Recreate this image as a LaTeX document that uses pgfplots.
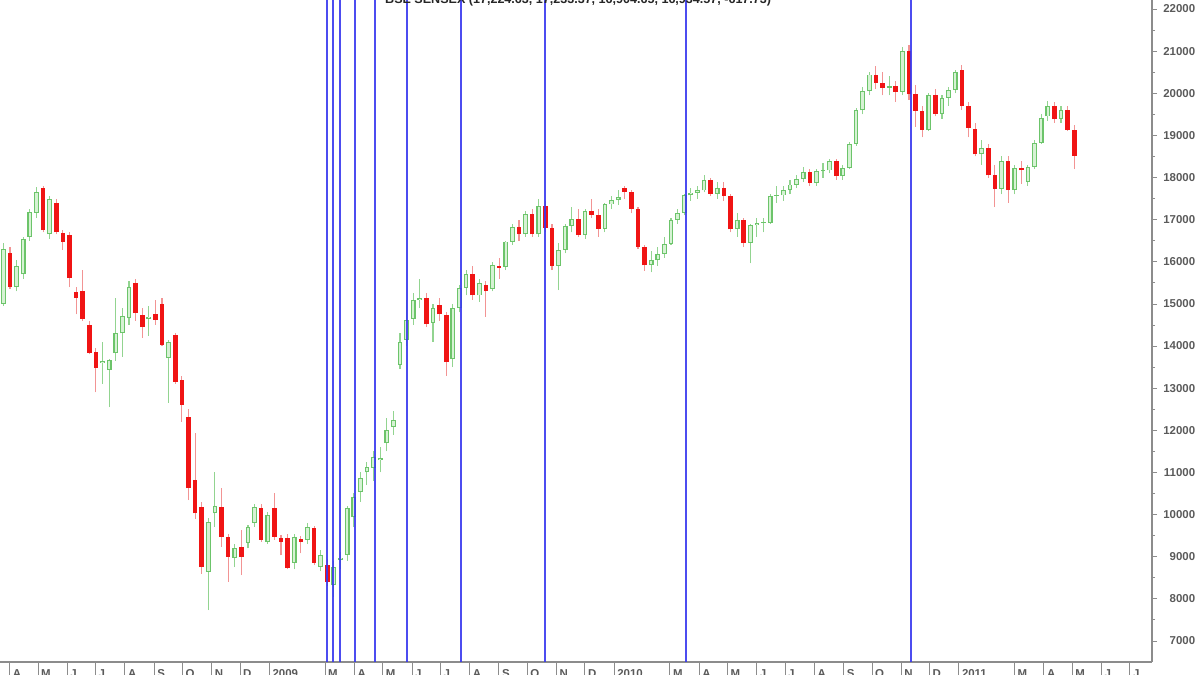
\documentclass[border=0pt]{standalone}
\usepackage{fontspec}
\setmainfont{Liberation Sans}
\usepackage{pgfplots}
\pgfplotsset{compat=1.18}
\usepackage{pgfplotstable}

\definecolor{upfill}{HTML}{D6F2D4}
\definecolor{updraw}{HTML}{6CC46A}
\definecolor{upwick}{HTML}{92D490}
\definecolor{dnfill}{HTML}{F01414}
\definecolor{dnwick}{HTML}{F29494}
\definecolor{fibo}{HTML}{3838EE}
\definecolor{axgray}{HTML}{8C8C8C}
\definecolor{txtgray}{HTML}{5A5A5A}

% weekly candles: i = week index (0 = week of 24 Mar 2008)
\pgfplotstableread{
i O H L C
0 15000 16450 14950 16300
2 15400 16050 15300 15900
3 15700 16600 15600 16550
4 16600 17250 16500 17180
5 17160 17780 17050 17650
7 16650 17550 16550 17500
15 13600 14100 13100 13650
16 13430 13700 12550 13670
17 13830 15150 13650 14300
18 14300 14900 13750 14720
19 14660 15550 14500 15400
22 14650 14950 14250 14700
25 13710 14150 12650 14090
31 8640 9920 7730 9820
32 10030 11000 9700 10200
35 8970 9300 8750 9200
37 9320 9750 9200 9700
38 9800 10250 9700 10180
40 9350 10050 9300 9990
44 8850 9550 8700 9470
46 9400 9800 9300 9700
48 8750 9150 8650 9040
50 8320 8900 8050 8750
51 8920 9100 8700 8980
52 9040 10200 8900 10150
53 9940 10500 9700 10420
54 10530 11000 10300 10870
55 11000 11250 10700 11130
56 11100 11500 10800 11370
57 11300 11600 11000 11350
58 11700 12300 11500 12000
59 12080 12450 11900 12240
60 13550 14300 13450 14100
61 14150 15100 14000 14625
62 14650 15250 14500 15100
63 15100 15600 14900 15150
65 14550 15000 14100 14900
68 13700 15000 13500 14900
69 14900 15450 14800 15380
70 15380 15800 15200 15700
72 15200 15600 15050 15500
74 15350 16000 15300 15920
76 15880 16500 15800 16480
77 16480 16900 16400 16820
79 16650 17200 16600 17130
81 16650 17500 16600 17330
84 15900 16450 15330 16280
85 16280 16900 16200 16850
86 16850 17300 16700 17020
88 16630 17250 16550 17200
91 16780 17400 16700 17360
92 17360 17550 17250 17465
93 17465 17700 17350 17540
98 15915 16250 15750 16040
99 16040 16350 15900 16190
100 16190 16600 16100 16430
101 16430 17050 16400 16994
102 16994 17250 16900 17167
103 17167 17600 17100 17578
104 17578 17750 17450 17644
105 17644 17800 17500 17692
106 17692 18050 17650 17933
108 17620 17900 17500 17744
111 16769 17150 16600 16994
113 16445 16900 15960 16863
114 16863 17050 16600 16919
115 16919 17050 16700 16922
116 16922 17600 16900 17571
117 17571 17800 17400 17574
118 17574 17800 17450 17701
119 17701 17950 17600 17834
120 17834 18050 17750 17956
121 17956 18250 17900 18131
123 17868 18200 17800 18144
124 18144 18350 18000 18167
125 18167 18450 18100 18401
127 18031 18300 17950 18221
128 18221 18850 18200 18799
129 18799 19650 18750 19594
130 19594 20150 19500 20045
131 20045 20500 19950 20445
134 20125 20400 19950 20165
136 20032 21110 19950 21004
140 19137 20000 19100 19966
142 19509 19950 19400 19888
143 19888 20150 19700 20074
144 20074 20550 20000 20509
148 18550 18900 18300 18700
151 17730 18500 17600 18400
153 17700 18300 17600 18220
155 17900 18300 17800 18250
156 18250 18900 18200 18815
157 18815 19500 18800 19420
158 19450 19820 19350 19700
160 19386 19700 19300 19602
}\uptable

\pgfplotstableread{
i O H L C
-1 15300 15500 14900 15000
1 16200 16350 15350 15400
6 17750 17800 16700 16750
8 17400 17500 16650 16700
9 16680 16750 16280 16470
10 16640 16700 15400 15610
11 15280 15400 14750 15140
12 15300 15800 14600 14650
13 14500 14600 13800 13830
14 13860 13950 12900 13480
20 15500 15580 14600 14780
21 14740 14900 14200 14450
23 14750 15100 14500 14620
24 15000 15150 14000 14020
26 14260 14300 13100 13150
27 13200 13300 12200 12600
28 12310 12500 10340 10630
29 10820 11940 9900 10030
30 10180 10300 8600 8750
33 10180 10630 9230 9470
34 9470 9550 8400 9000
36 9230 9630 8560 9000
39 10150 10250 9350 9400
41 10150 10500 9400 9470
42 9440 9510 9030 9350
43 9440 9550 8700 8730
45 9420 9500 9080 9360
47 9680 9720 8800 8850
49 8800 8950 8300 8400
64 15150 15250 14450 14520
66 14980 15150 14600 14750
67 14740 14800 13300 13620
71 15700 15900 15100 15200
73 15450 15550 14700 15300
75 15900 16100 15600 15860
78 16820 17000 16500 16650
80 17130 17250 16600 16650
82 17330 17450 16700 16800
83 16800 16900 15800 15900
87 17020 17250 16600 16630
89 17200 17500 17050 17120
90 17120 17250 16600 16780
94 17760 17800 17500 17654
95 17654 17700 17150 17259
96 17259 17300 16300 16357
97 16357 16400 15790 15915
107 17933 18000 17550 17620
109 17744 17900 17450 17559
110 17559 17600 16700 16769
112 16994 17050 16350 16445
122 18131 18200 17800 17868
126 18401 18450 17950 18031
132 20445 20650 20100 20250
133 20250 20500 19950 20125
135 20165 20300 19800 20032
137 21004 21150 19850 19976
138 19976 20200 19200 19585
139 19585 19700 18950 19137
141 19966 20100 19450 19509
145 20561 20670 19600 19692
146 19692 19800 18950 19183
147 19150 19300 18500 18550
149 18700 18800 18000 18050
150 18050 18300 17300 17730
152 18400 18500 17400 17700
154 18220 18400 17850 18170
159 19700 19800 19300 19386
161 19602 19700 19100 19136
162 19136 19250 18200 18518
}\dntable

\pgfplotsset{
  candlepart/.style={draw=none, no markers, forget plot,
    error bars/.cd, y dir=plus, y explicit, error mark=none,
    error bar style={#1}},
}

\begin{document}
\begin{tikzpicture}
\begin{axis}[
  scale only axis, width=1152bp, height=662bp,
  xmin=-0.514, xmax=173.77, ymin=6500, ymax=22214,
  axis x line*=bottom, axis y line*=right,
  axis line style={draw=axgray, line width=1.2bp},
  tick align=outside,
  major tick length=5bp, minor tick length=3bp,
  tick style={draw=axgray, line width=0.8bp},
  ytick={7000,8000,...,22000}, minor y tick num=1,
  scaled y ticks=false,
  /pgf/number format/.cd, 1000 sep={}, assume math mode=true, /pgfplots/.cd,
  yticklabel style={anchor=west, align=right, text width=34bp, inner sep=0pt, xshift=4bp,
    font=\fontsize{11.5}{12}\selectfont\bfseries, text=txtgray},
  xtick={0.94,5.22,9.65,13.94,18.37,22.80,27.09,31.52,35.80,40.23,48.66,53.09,57.38,61.81,66.10,70.53,74.95,79.24,83.67,87.96,92.39,100.82,105.25,109.53,113.96,118.25,122.68,127.11,131.40,135.83,140.11,144.54,152.97,157.40,161.69,166.12,170.41},
  xticklabels={A,M,J,J,A,S,O,N,D,2009,M,A,M,J,J,A,S,O,N,D,2010,M,A,M,J,J,A,S,O,N,D,2011,M,A,M,J,J},
  xtick style={/pgfplots/major tick length=16bp},
  xticklabel style={anchor=north west, inner sep=0pt, xshift=3bp, yshift=-2bp,
    font=\fontsize{11.5}{12}\selectfont\bfseries, text=txtgray},
  clip=true,
]
\coordinate (ax0) at (rel axis cs:0,0);
% wicks
\addplot[candlepart={draw=dnwick, line width=1.1bp}]
  table[x=i, y=L, y error plus expr=\thisrow{H}-\thisrow{L}] {\dntable};
\addplot[candlepart={draw=upwick, line width=1.1bp}]
  table[x=i, y=L, y error plus expr=\thisrow{H}-\thisrow{L}] {\uptable};
% bodies
\addplot[candlepart={draw=dnfill, line width=4.6bp}]
  table[x=i, y=C, y error plus expr={max(\thisrow{O}-\thisrow{C},25)}] {\dntable};
\addplot[candlepart={draw=updraw, line width=4.8bp}]
  table[x=i, y=O, y error plus expr={max(\thisrow{C}-\thisrow{O},25)}] {\uptable};
\addplot[candlepart={draw=upfill, line width=2.4bp}]
  table[x=i, y expr=\thisrow{O}+22, y error plus expr={max(\thisrow{C}-\thisrow{O}-44,0)}] {\uptable};
% vertical time lines
\pgfplotsinvokeforeach{48.96,49.86,50.92,53.19,56.22,61.06,69.23,81.94,103.27,137.31}{
  \addplot[fibo, line width=1.8bp, opacity=0.9, forget plot] coordinates {(#1,6500) (#1,22214)};
}
\end{axis}
\node[anchor=base west, inner sep=0pt, font=\fontsize{12.6}{13}\selectfont\bfseries, text=black!85]
  at ([xshift=385bp,yshift=658bp]ax0) {BSE SENSEX (17,224.63, 17,233.37, 16,904.65, 16,934.57, -617.73)};
\pgfresetboundingbox
\path[use as bounding box] ([yshift=-13bp]ax0) rectangle ([xshift=1200bp,yshift=662bp]ax0);
\end{tikzpicture}
\end{document}
